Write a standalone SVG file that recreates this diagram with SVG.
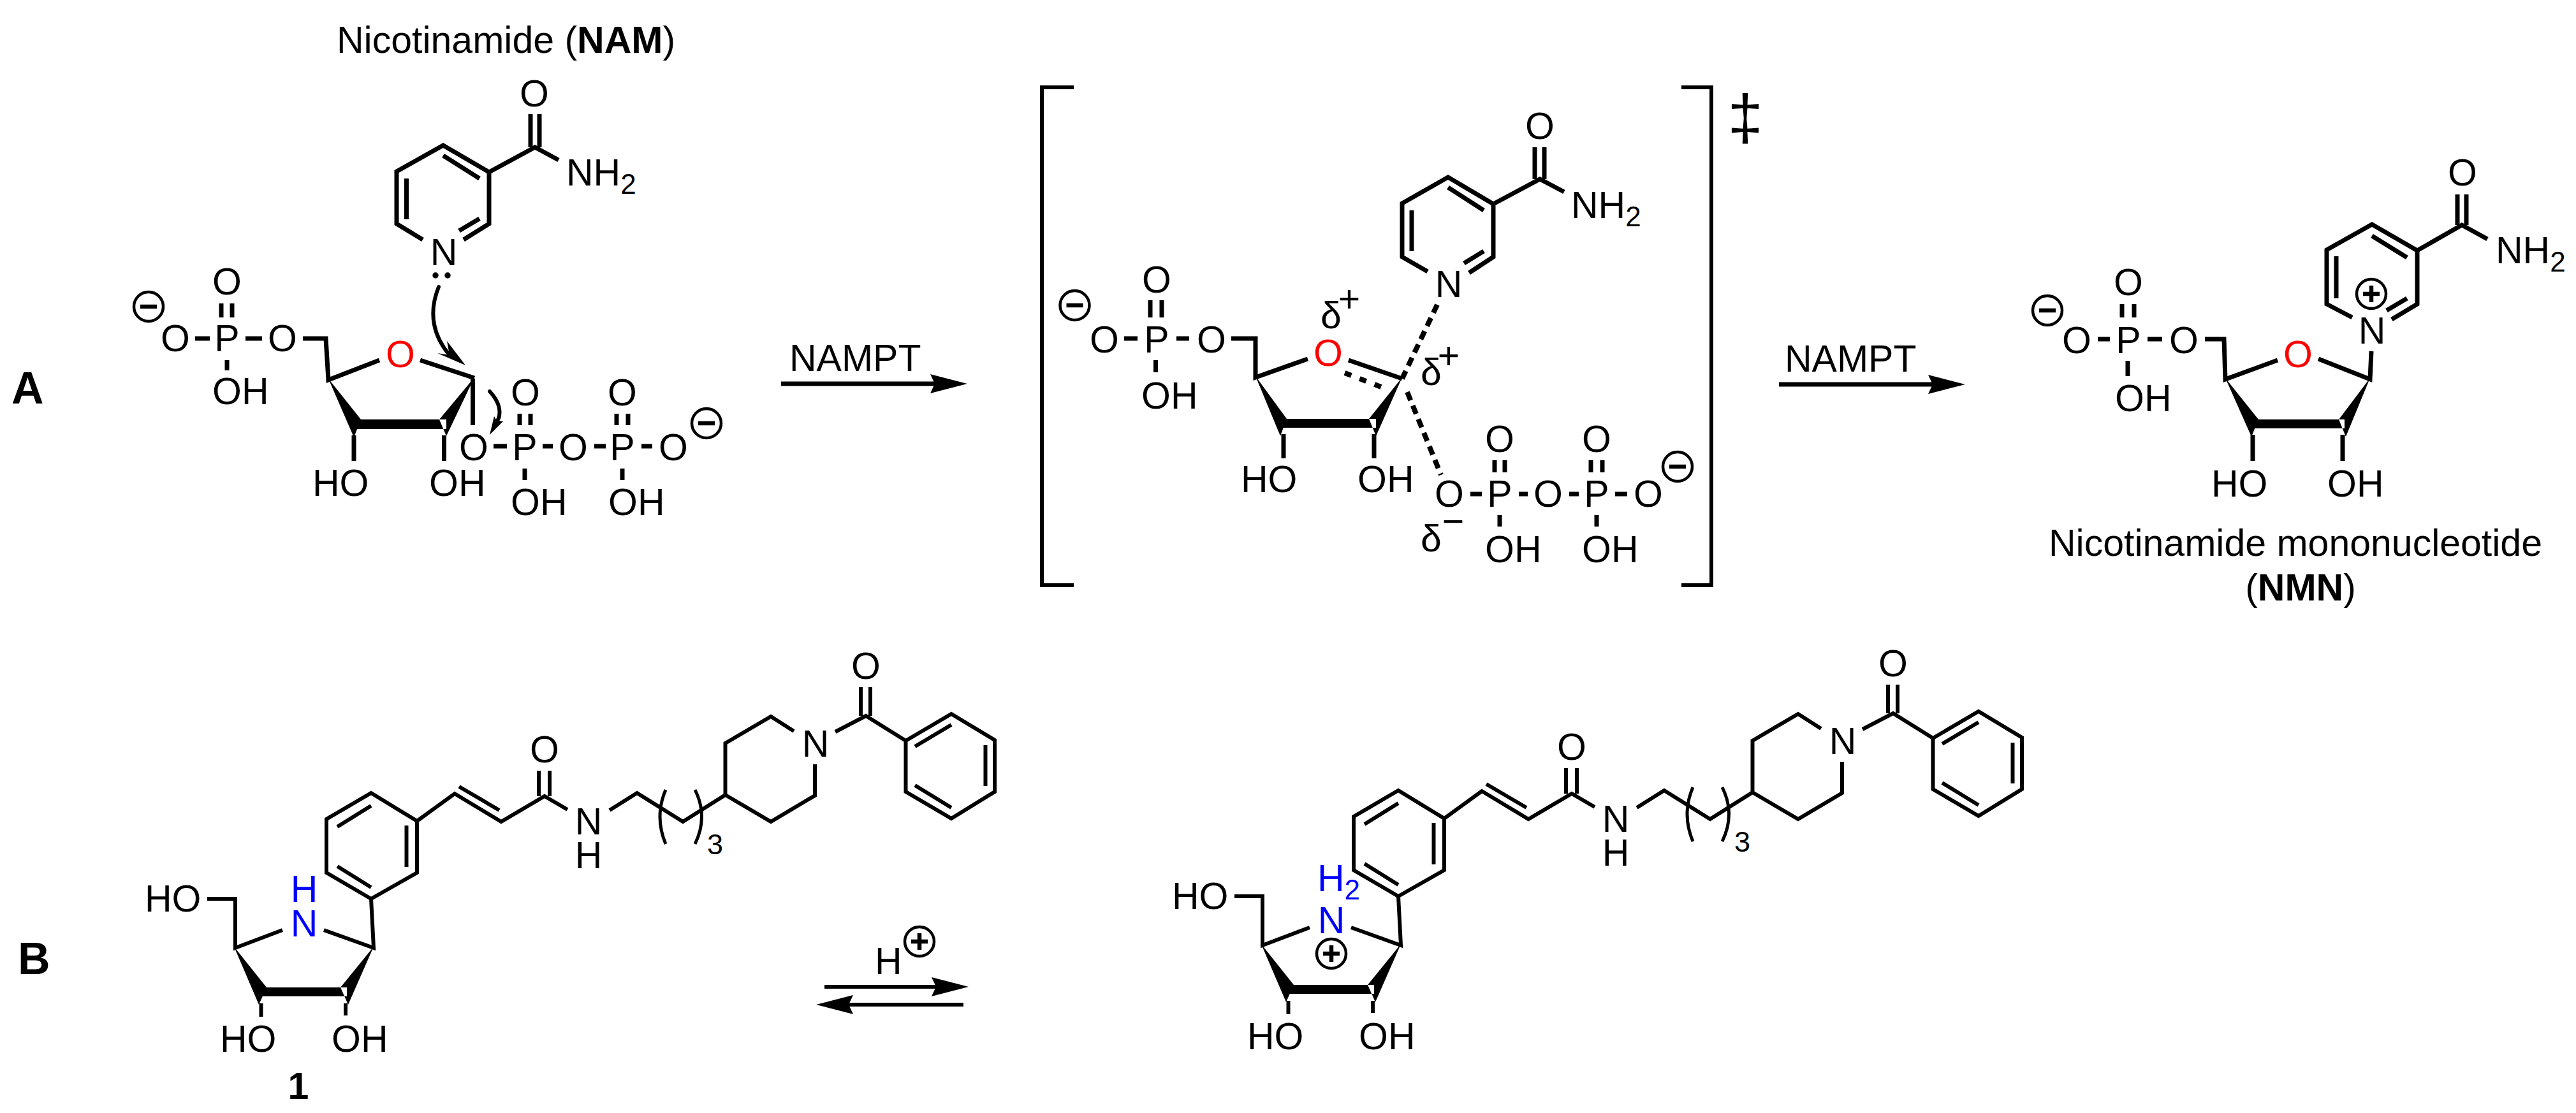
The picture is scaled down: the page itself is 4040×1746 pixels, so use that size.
<svg xmlns="http://www.w3.org/2000/svg" width="4040" height="1746" viewBox="0 0 4040 1746">
<style>
text{font-family:"Liberation Sans",Arial,sans-serif;font-size:59px;fill:#000}
.m{text-anchor:middle}
.r{fill:#f00}
.bl{fill:#00f}
.s{font-size:44px}
.bd{font-weight:bold}
.b{fill:none;stroke:#000;stroke-width:7;stroke-linejoin:miter}
.t{fill:none;stroke:#000;stroke-width:5}
.d{fill:none;stroke:#000;stroke-width:8}
.w{fill:#000;stroke:none}
.c{fill:#fff;stroke:#000;stroke-width:4.500}
.a{fill:none;stroke:#000;stroke-width:7}
.e{fill:none;stroke:#000;stroke-width:6}
.k{fill:none;stroke:#000;stroke-width:6}
.cv{fill:none;stroke:#000;stroke-width:6;stroke-linecap:round}
#inhibitor-1 .b,#inhibitor-1-protonated .b{stroke-width:6}
</style>
<defs>
<marker id="head" markerUnits="userSpaceOnUse" markerWidth="70" markerHeight="40" refX="10" refY="20" orient="auto" overflow="visible"><path d="M3 5L61 20L3 35L10 20Z" fill="#000"/></marker>
<g id="minus"><circle class="c" r="23"/><path d="M-13 0H13" stroke="#000" stroke-width="6.500"/></g>
<g id="plus"><circle class="c" r="23"/><path d="M-13 0H13M0 -13V13" stroke="#000" stroke-width="6.500"/></g>
</defs>
<rect width="4040" height="1746" fill="#fff"/>

<text x="18" y="633" class="bd" style="font-size:70px">A</text>
<text x="28" y="1528" class="bd" style="font-size:70px">B</text>

<g id="nam">
<text x="528" y="83">Nicotinamide (<tspan class="bd">NAM</tspan>)</text>
<path class="b" d="M663 376L622 351V269L695 228L767 270V351L727 376M767 270L839 231L876 251M637.500 280V344M695 244L752 280M752 343L720 362M832 179V231M846 179V231"/>
<text x="838" y="167" class="m">O</text>
<text x="888" y="291">NH<tspan class="s" dy="13">2</tspan></text>
<text x="696" y="416" class="m">N</text>
<circle cx="683" cy="432" r="4.700"/><circle cx="702" cy="432" r="4.700"/>
</g>

<g id="prpp">
<use href="#minus" x="233" y="481"/>
<text x="275" y="551" class="m">O</text><text x="356" y="551" class="m">P</text><text x="443" y="551" class="m">O</text>
<text x="356" y="462" class="m">O</text><text x="333" y="634">OH</text>
<path class="b" d="M306 531H329M385 531H411M475 531H511L515 596L595 565M659 565L744 593M555 683V723M696.500 683V723M741.500 594V667M356 565V581M347 476V498M364 476V498"/>
<path class="w" d="M515 594L566 658L555 686ZM744 592L689 658L700 684ZM552 658H700V673H552Z"/>
<text x="628" y="576" class="m r">O</text>
<text x="490" y="778">HO</text><text x="673" y="778">OH</text>
<text x="743" y="722" class="m">O</text><text x="823" y="722" class="m">P</text><text x="899" y="722" class="m">O</text><text x="976" y="722" class="m">P</text><text x="1056" y="722" class="m">O</text>
<text x="824" y="636" class="m">O</text><text x="976" y="636" class="m">O</text>
<text x="801" y="808">OH</text><text x="954" y="808">OH</text>
<path class="b" d="M815 649V667M832 649V667M967 649V667M985 649V667M774 700H795M851 700H867M932 700H950M1006 700H1023M823 735V753M976 735V753"/>
<use href="#minus" x="1108" y="664"/>
</g>

<g id="ts">
<path class="k" d="M1684 137H1634V918H1684M2637 137H2684V918H2637"/>
<text x="2737" y="219" class="m" style="font-size:100px">‡</text>
<use href="#minus" x="1685.500" y="479"/>
<text x="1732" y="553" class="m">O</text><text x="1814" y="553" class="m">P</text><text x="1900" y="553" class="m">O</text>
<text x="1814" y="459" class="m">O</text><text x="1790" y="641">OH</text>
<path class="b" d="M1763 531H1784M1845 531H1865M1931 531H1969V592L2051 563M2115 565L2199 594M2013 681V719M2155 681V719M1812.500 565V584M1804 471V498M1822 471V498"/>
<path class="w" d="M1969 590L2018 657L2008 684ZM2199 592L2147 657L2158 684ZM2009 657H2158V671H2009Z"/>
<text x="2083" y="574" class="m r">O</text>
<path class="d" stroke-dasharray="11 14" d="M2109 585L2166 607"/>
<text x="2071" y="515">δ</text><text x="2116" y="489" class="m">+</text>
<text x="2228" y="604">δ</text><text x="2272" y="578" class="m">+</text>
<text x="1946" y="772">HO</text><text x="2129" y="772">OH</text>
<text x="2272" y="466" class="m">N</text>
<path class="b" d="M2239 426L2199 403V319L2271 278L2342 320V403L2304 428M2342 320L2415 281L2453 301M2214 330V394M2271 294L2327 330M2327 394L2296 413M2407 231V281M2422 231V281"/>
<text x="2415" y="218" class="m">O</text>
<text x="2464" y="342">NH<tspan class="s" dy="13">2</tspan></text>
<path class="d" stroke-dasharray="14 9" d="M2254 478L2199 594M2207 615L2260 745"/>
<text x="2273" y="795" class="m">O</text><text x="2352" y="795" class="m">P</text><text x="2428" y="795" class="m">O</text><text x="2504" y="795" class="m">P</text><text x="2585" y="795" class="m">O</text>
<text x="2352" y="709" class="m">O</text><text x="2504" y="709" class="m">O</text>
<text x="2329" y="882">OH</text><text x="2481" y="882">OH</text>
<path class="b" d="M2344 722V741M2360 722V741M2495 722V741M2513 722V741M2306 775H2324M2382 775H2396M2461 775H2476M2533 775H2552M2352 808V826M2504 808V826"/>
<use href="#minus" x="2631" y="732"/>
<text x="2228" y="865">δ</text><text x="2279" y="838" class="m">−</text>
</g>

<g id="nmn">
<use href="#minus" x="3211" y="487"/>
<text x="3257" y="554" class="m">O</text><text x="3338" y="554" class="m">P</text><text x="3425" y="554" class="m">O</text>
<text x="3338" y="463" class="m">O</text><text x="3317" y="645">OH</text>
<path class="b" d="M3290 532H3309M3368 532H3391M3458 532H3488L3490 595L3572 565M3636 563L3717 595L3719 551M3533 682V723M3674 682V723M3337 566V590M3328 477V498M3347 477V498"/>
<path class="w" d="M3490 593L3542 658L3531 685ZM3717 593L3668 658L3679 685ZM3531 658H3677V672H3531Z"/>
<text x="3604" y="576" class="m r">O</text>
<text x="3468" y="779">HO</text><text x="3650" y="779">OH</text>
<text x="3720" y="539" class="m">N</text>
<path class="b" d="M3689 498L3649 477V392L3720 352L3791 393V477L3751 501M3791 393L3861 353L3901 375M3664 402V468M3720 370L3775 404M3775 468L3743 487M3854 305V353M3868 305V353"/>
<use href="#plus" x="3719" y="461"/>
<text x="3862" y="291" class="m">O</text>
<text x="3914" y="413">NH<tspan class="s" dy="13">2</tspan></text>
<text x="3213" y="872">Nicotinamide mononucleotide</text>
<text x="3608" y="942" class="m">(<tspan class="bd">NMN</tspan>)</text>
</g>

<g id="inhibitor-1">
<text x="227" y="1430">HO</text>
<path class="b" d="M325 1410H369V1487L443 1459M508 1459L586 1487L582 1410M409.500 1574V1595M542 1574V1593"/>
<path class="w" d="M367 1485L418 1549L406 1576ZM586 1485L534 1549L546 1576ZM406 1549H544V1563H406Z"/>
<text x="477" y="1415" class="m bl">H</text><text x="477" y="1469" class="m bl">N</text>
<text x="345" y="1650">HO</text><text x="520" y="1650">OH</text>
<text x="468" y="1724" class="m bd">1</text>
<path class="b" d="M582 1410L654 1369V1288L582 1244L512 1285V1369L582 1410M637.500 1295V1360M582 1264L529 1297M529 1359L582 1392M654 1288L713 1245L786 1289L854 1249L890 1270M720 1234L783 1271M845 1209V1249M862 1209V1249"/>
<text x="854" y="1196" class="m">O</text>
<text x="923" y="1309" class="m">N</text><text x="923" y="1362" class="m">H</text>
<path class="b" d="M956 1271L999 1244L1071 1289L1137.500 1247V1166L1209 1124L1245 1147M1278 1199V1248L1209 1289L1137.500 1247M1310 1148L1358 1123L1420.500 1162M1350 1078V1123M1365 1078V1123M1420.500 1162L1492 1120L1560 1161V1242L1492 1284L1420.500 1242V1162M1435 1171L1492 1137M1545.500 1169V1233M1435 1232L1492 1267"/>
<path class="t" d="M1044 1239Q1026 1281 1044 1324M1090 1239Q1111 1281 1090 1324"/>
<text x="1109" y="1340" style="font-size:45px">3</text>
<text x="1279" y="1187" class="m">N</text>
<text x="1358" y="1065" class="m">O</text>
</g>

<g id="inhibitor-1-protonated" transform="translate(1611 -4)">
<text x="227" y="1430">HO</text>
<path class="b" d="M325 1410H369V1487L443 1459M508 1459L586 1487L582 1410M409.500 1574V1595M542 1574V1593"/>
<path class="w" d="M367 1485L418 1549L406 1576ZM586 1485L534 1549L546 1576ZM406 1549H544V1563H406Z"/>
<text x="455" y="1402" class="bl">H<tspan class="s" dy="13">2</tspan></text><text x="477" y="1468" class="m bl">N</text>
<use href="#plus" x="477" y="1500"/>
<text x="345" y="1650">HO</text><text x="520" y="1650">OH</text>
<path class="b" d="M582 1410L654 1369V1288L582 1244L512 1285V1369L582 1410M637.500 1295V1360M582 1264L529 1297M529 1359L582 1392M654 1288L713 1245L786 1289L854 1249L890 1270M720 1234L783 1271M845 1209V1249M862 1209V1249"/>
<text x="854" y="1196" class="m">O</text>
<text x="923" y="1309" class="m">N</text><text x="923" y="1362" class="m">H</text>
<path class="b" d="M956 1271L999 1244L1071 1289L1137.500 1247V1166L1209 1124L1245 1147M1278 1199V1248L1209 1289L1137.500 1247M1310 1148L1358 1123L1420.500 1162M1350 1078V1123M1365 1078V1123M1420.500 1162L1492 1120L1560 1161V1242L1492 1284L1420.500 1242V1162M1435 1171L1492 1137M1545.500 1169V1233M1435 1232L1492 1267"/>
<path class="t" d="M1044 1239Q1026 1281 1044 1324M1090 1239Q1111 1281 1090 1324"/>
<text x="1109" y="1340" style="font-size:45px">3</text>
<text x="1279" y="1187" class="m">N</text>
<text x="1358" y="1065" class="m">O</text>
</g>

<g id="connectors">
<path class="a" d="M1225 602H1466" marker-end="url(#head)"/>
<path class="a" d="M2790 603H3031" marker-end="url(#head)"/>
<path class="e" d="M1293 1548H1468" marker-end="url(#head)"/>
<path class="e" d="M1511 1576H1331" marker-end="url(#head)"/>
<path class="cv" d="M688 450C672 490 678 525 705 557"/>
<path class="w" d="M730 573L686 554L705 557L701 535Z"/>
<path class="cv" d="M768 614C785 632 787 650 779 662"/>
<path class="w" d="M768 682L775 653L779 660L789 661Z"/>
</g>
<g id="labels">
<text x="1238" y="582">NAMPT</text>
<text x="2799" y="583">NAMPT</text>
<text x="1372" y="1528">H</text>
<use href="#plus" x="1442" y="1477"/>
</g>
</svg>
